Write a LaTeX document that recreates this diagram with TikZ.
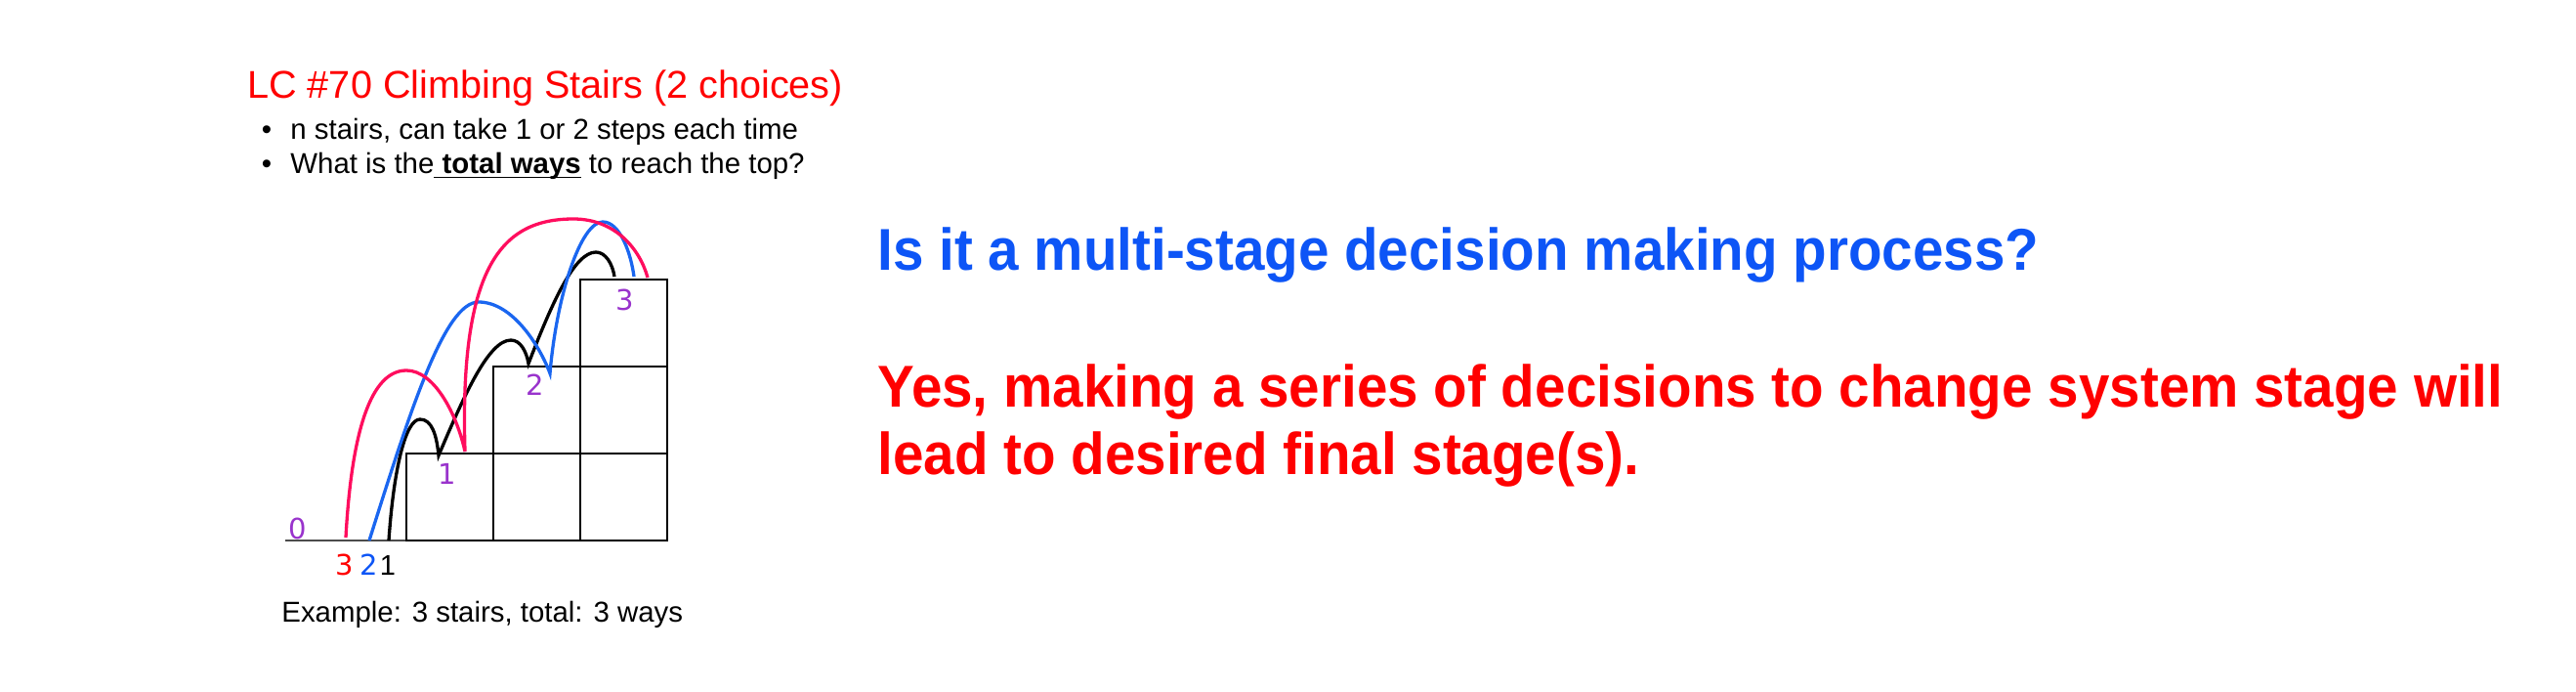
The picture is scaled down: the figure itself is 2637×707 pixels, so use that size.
\documentclass[tikz,border=0pt]{standalone}
\usepackage{fontspec}
\setmainfont{Liberation Sans}
\newfontfamily\headfont[FakeStretch=0.937]{Liberation Sans}
\newfontfamily\stagefont{DejaVu Sans}
\definecolor{hopred}{HTML}{FF0D5E}
\definecolor{hopblue}{HTML}{1A66F0}
\definecolor{stagepurple}{HTML}{9933CC}
\definecolor{askblue}{HTML}{0D55F6}
\definecolor{titlered}{HTML}{FF0000}
\newsavebox{\wayssave}
\newcommand{\waysline}[1]{\sbox{\wayssave}{#1}\rlap{\rule[-2pt]{\wd\wayssave}{0.6pt}}\usebox{\wayssave}}
\begin{document}
\begin{tikzpicture}[x=0.5pt,y=-0.5pt,
    hop/.style={line width=1.65pt},
    stairline/.style={line width=0.65pt},
    txt/.style={anchor=base west,inner sep=0pt},
    bultxt/.style={anchor=base west,inner sep=0pt,font=\fontsize{14.7}{17}\selectfont},
    headtxt/.style={anchor=base west,inner sep=0pt,font=\headfont\bfseries\fontsize{30.2}{36}\selectfont},
    stagenum/.style={anchor=base,inner sep=0pt,text=stagepurple,font=\stagefont\fontsize{14.5}{16}\selectfont},
    waynum/.style={anchor=base,inner sep=0pt,font=\stagefont\fontsize{14.5}{16}\selectfont}]
\useasboundingbox (0,0) rectangle (2637,707);
% problem statement
\node[txt,text=titlered,font=\fontsize{19.8}{22}\selectfont] (title) at (253,100.7) {LC \#70 Climbing Stairs (2 choices)};
\node[bultxt,anchor=base] (bul1) at (273,142.3) {•};
\node[bultxt] (line1) at (297,142.3) {n stairs, can take 1 or 2 steps each time};
\node[bultxt,anchor=base] (bul2) at (273,177.7) {•};
\node[bultxt] (line2) at (297,177.7) {What is the\waysline{ \textbf{total ways}} to reach the top?};
% stairs
\draw[stairline,black!70] (292,553) -- (416,553);
\draw[stairline] (416,553) rectangle (505,464);
\draw[stairline] (505,553) rectangle (594,464);
\draw[stairline] (505,464) rectangle (594,375);
\draw[stairline] (594,553) rectangle (683,464);
\draw[stairline] (594,464) rectangle (683,375);
\draw[stairline] (594,375) rectangle (683,286);
% hops 1+1+1
\draw[hop,black] (398,553) .. controls (403,480) and (415,429) .. (430,429)
    .. controls (442,429) and (447,445) .. (449,466)
    .. controls (475,405) and (500,348) .. (523,348)
    .. controls (533,348) and (539,360) .. (541,372)
    .. controls (565,310) and (588,258) .. (610,258)
    .. controls (620,258) and (627,270) .. (629,283);
% hops 2+1
\draw[hop,hopblue] (378,553) .. controls (420,420) and (455,309) .. (490,309)
    .. controls (525,309) and (553,355) .. (563,382)
    .. controls (570,300) and (595,227) .. (617,227)
    .. controls (635,227) and (646,260) .. (649,283);
% hops 1+2
\draw[hop,hopred] (354,550) .. controls (360,440) and (380,379) .. (416,379)
    .. controls (445,379) and (468,425) .. (476,462)
    .. controls (470,270) and (515,224) .. (587,224)
    .. controls (630,224) and (655,255) .. (663,284);
% stage labels
\node[stagenum] (s0) at (305,551) {0};
\node[stagenum] (s1) at (458,495) {1};
\node[stagenum] (s2) at (548,404) {2};
\node[stagenum] (s3) at (640,317) {3};
\node[waynum,text=titlered] (w3) at (353,588) {3};
\node[waynum,text=askblue] (w2) at (378,588) {2};
\node[anchor=base,inner sep=0pt,font=\fontsize{14.5}{16}\selectfont] (w1) at (397,588) {1};
\node[txt,font=\fontsize{14.7}{17}\selectfont] (example) at (288,636) {Example: 3 stairs, total: 3 ways};
% question and answer
\node[headtxt,text=askblue] (ask) at (898,276.7) {Is it a multi-stage decision making process?};
\node[headtxt,text=titlered] (ans1) at (898,416.7) {Yes, making a series of decisions to change system stage will};
\node[headtxt,text=titlered] (ans2) at (898,485) {lead to desired final stage(s).};
\end{tikzpicture}
\end{document}
